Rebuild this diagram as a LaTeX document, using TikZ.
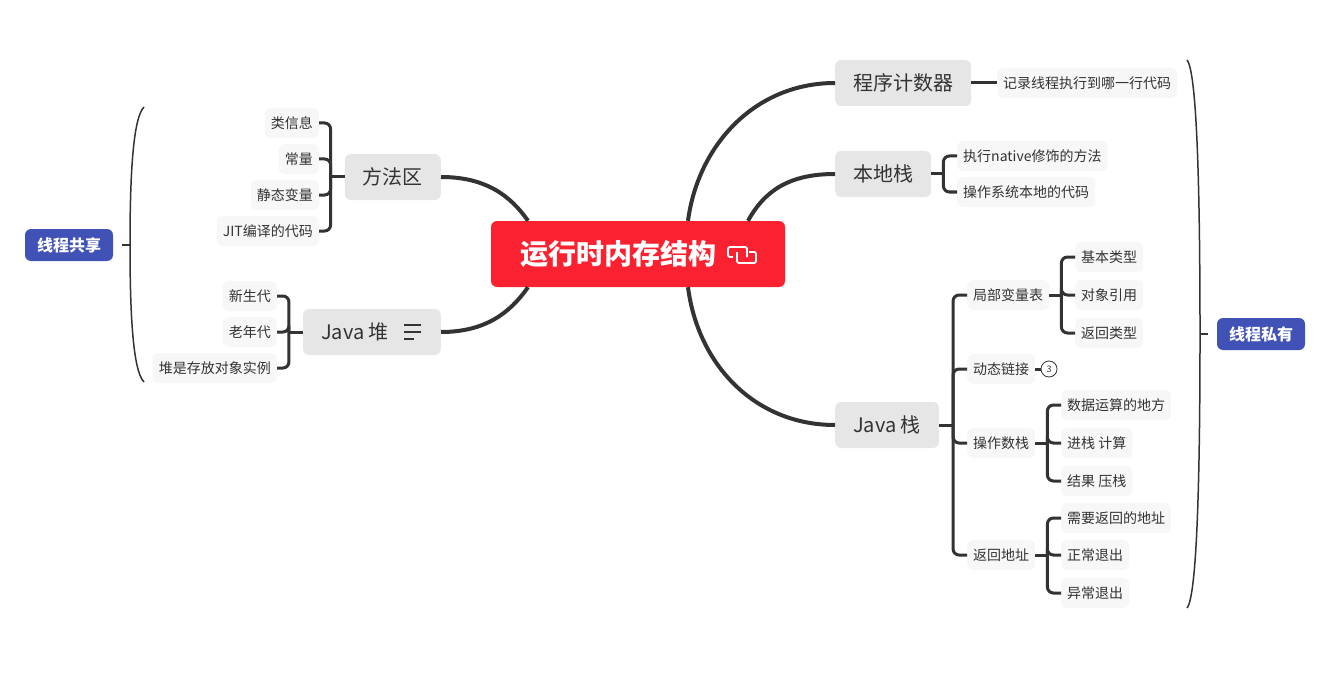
\documentclass[tikz,border=0pt]{standalone}
\usepackage{fontspec}
\setmainfont{Noto Sans CJK SC}
\definecolor{inkc}{HTML}{333333}
\definecolor{rootc}{HTML}{FA2231}
\definecolor{tagc}{HTML}{4152B7}
\definecolor{branchc}{HTML}{E6E6E6}
\definecolor{leafc}{HTML}{F7F7F7}
\tikzset{
  rootbox/.style={fill=rootc,text=white,rounded corners=6pt,minimum width=294pt,minimum height=66pt,font=\fontsize{28}{32}\selectfont\bfseries},
  branch/.style={fill=branchc,text=inkc,rounded corners=6pt,minimum height=46pt,inner xsep=18pt,inner ysep=0pt,font=\fontsize{20}{24}\selectfont},
  leaf/.style={fill=leafc,text=inkc,rounded corners=6pt,minimum height=30pt,inner xsep=6pt,inner ysep=0pt,font=\fontsize{14}{17}\selectfont},
  tagbox/.style={fill=tagc,text=white,rounded corners=6pt,minimum width=88pt,minimum height=32pt,inner sep=0pt,font=\fontsize{16}{19}\selectfont\bfseries},
  trunk/.style={draw=inkc,line width=4pt},
  limb/.style={draw=inkc,line width=3pt,rounded corners=6pt},
  brace/.style={draw=inkc,line width=1.5pt}
}
\begin{document}
\begin{tikzpicture}[x=1pt,y=-1pt]
  \useasboundingbox (0,0) rectangle (1340,695);
  \node[rootbox] (root) at (638,254) {运行时内存结构\hspace*{40pt}};
  \node[branch,anchor=west] (prog) at (835,83) {程序计数器};
  \node[branch,anchor=west] (natv) at (835,174) {本地栈};
  \node[branch,anchor=west] (jstack) at (835,425) {Java\ 栈};
  \node[branch,anchor=east] (meth) at (441,177) {方法区};
  \node[branch,anchor=east] (jheap) at (441,332) {Java\ 堆\hspace*{34pt}};

  \node[leaf,anchor=west] (record) at (997,83) {记录线程执行到哪一行代码};
  \node[leaf,anchor=west] (natva) at (957,156) {执行native修饰的方法};
  \node[leaf,anchor=west] (natvb) at (957,192) {操作系统本地的代码};
  \node[leaf,anchor=west] (locvar) at (967,295) {局部变量表};
  \node[leaf,anchor=west] (dynlink) at (967,369) {动态链接};
  \node[leaf,anchor=west] (opstack) at (967,443) {操作数栈};
  \node[leaf,anchor=west] (retaddr) at (967,555) {返回地址};
  \node[leaf,anchor=west] (loca) at (1075,257) {基本类型};
  \node[leaf,anchor=west] (locb) at (1075,295) {对象引用};
  \node[leaf,anchor=west] (locc) at (1075,333) {返回类型};
  \node[leaf,anchor=west] (opa) at (1061,405) {数据运算的地方};
  \node[leaf,anchor=west] (opb) at (1061,443) {进栈 计算};
  \node[leaf,anchor=west] (opc) at (1061,481) {结果 压栈};
  \node[leaf,anchor=west] (reta) at (1061,518) {需要返回的地址};
  \node[leaf,anchor=west] (retb) at (1061,555) {正常退出};
  \node[leaf,anchor=west] (retc) at (1061,593) {异常退出};
  \node[leaf,anchor=east] (metha) at (319,123) {类信息};
  \node[leaf,anchor=east] (methb) at (319,159) {常量};
  \node[leaf,anchor=east] (methc) at (319,195) {静态变量};
  \node[leaf,anchor=east] (methd) at (319,231) {JIT编译的代码};
  \node[leaf,anchor=east] (heapa) at (277,296) {新生代};
  \node[leaf,anchor=east] (heapb) at (277,332) {老年代};
  \node[leaf,anchor=east] (heapc) at (277,368) {堆是存放对象实例};

  \node[tagbox] (shared) at (69,245) {线程共享};
  \node[tagbox] (private) at (1261,334) {线程私有};
  \node[circle,draw=inkc,line width=.8pt,text=inkc,minimum size=16pt,inner sep=0pt,font=\fontsize{9}{10}\selectfont] (count) at (1049,369) {3};

  \draw[trunk] ([xshift=50pt]root.north) .. controls (698,145) and (755,83) .. (prog.west);
  \draw[trunk] ([xshift=110pt]root.north) .. controls (765,190) and (790,174) .. (natv.west);
  \draw[trunk] ([xshift=50pt]root.south) .. controls (698,365) and (755,425) .. (jstack.west);
  \draw[trunk] ([xshift=-110pt]root.north) .. controls (510,195) and (485,177) .. (meth.east);
  \draw[trunk] ([xshift=-110pt]root.south) .. controls (510,313) and (485,332) .. (jheap.east);
  \path[limb] (prog.east) edge (record.west) (dynlink.east) edge (count.west);

  \foreach \up/\dx/\kids in {natv/12/{natva,natvb},jstack/14/{locvar,dynlink,opstack,retaddr},locvar/12/{loca,locb,locc},opstack/12/{opa,opb,opc},retaddr/12/{reta,retb,retc}}{
    \coordinate (fork) at ([xshift=\dx pt]\up.east);
    \draw[limb,rounded corners=0pt] (\up.east) -- (fork);
    \foreach \kid in \kids \draw[limb] (\kid.west) -| (fork);
  }
  \foreach \up/\kids in {meth/{metha,methb,methc,methd},jheap/{heapa,heapb,heapc}}{
    \coordinate (fork) at ([xshift=-14pt]\up.west);
    \draw[limb,rounded corners=0pt] (\up.west) -- (fork);
    \foreach \kid in \kids \draw[limb] (\kid.east) -| (fork);
  }

  \coordinate (sharedtop) at (144,107);
  \coordinate (sharedmid) at (130,245);
  \coordinate (sharedbot) at (144,382);
  \coordinate (privatetop) at (1187,60);
  \coordinate (privatemid) at (1200,334);
  \coordinate (privatebot) at (1187,608);
  \draw[brace] (sharedtop) .. controls (133,118) and (130,175) .. (sharedmid) .. controls (130,315) and (133,371) .. (sharedbot);
  \draw[brace] (privatetop) .. controls (1197,72) and (1200,190) .. (privatemid) .. controls (1200,478) and (1197,596) .. (privatebot);
  \draw[brace] (sharedmid) -- ++(-8,0);
  \draw[brace] (privatemid) -- ++(8,0);

  \draw[white,line width=1.8pt,rounded corners=2pt] (733,257) -- (728,257) -- (728,247) -- (747,247) -- (747,257);
  \draw[white,line width=1.8pt,rounded corners=2pt] (749,252) -- (756,252) -- (756,263) -- (737,263) -- (737,252);
  \draw[inkc,line width=1.2pt] (404,325) -- (421,325) (404,332) -- (421,332) (404,339) -- (414,339);
\end{tikzpicture}
\end{document}
